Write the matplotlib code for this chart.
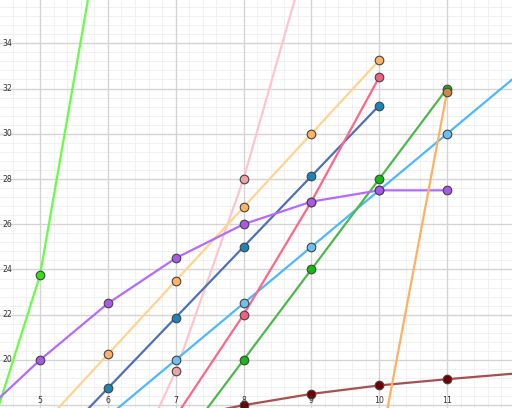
import matplotlib
matplotlib.use("Agg")
import matplotlib.pyplot as plt
import numpy as np
from matplotlib.transforms import blended_transform_factory

# ---- data ----
bright_green_x = [4, 5, 6]
bright_green_y = [14.25, 23.75, 41.0]
purple_x = [4, 5, 6, 7, 8, 9, 10, 11]
purple_y = [17.2, 20, 22.5, 24.5, 26, 27, 27.5, 27.5]
peach_x = [5, 6, 7, 8, 9, 10]
peach_y = [17.0, 20.25, 23.5, 26.75, 30, 33.25]
darkblue_x = [5, 6, 7, 8, 9, 10]
darkblue_y = [15.625, 18.75, 21.875, 25, 28.125, 31.25]
lightblue_x = [6, 7, 8, 9, 10, 11, 12]
lightblue_y = [17.5, 20, 22.5, 25, 27.5, 30, 32.5]
palepink_x = [6, 7, 8, 9]
palepink_y = [13.0, 19.5, 28, 38.5]
hotpink_x = [7, 8, 9, 10]
hotpink_y = [17.5, 22, 27, 32.5]
green_x = [7, 8, 9, 10, 11]
green_y = [16, 20, 24, 28, 32]
orange_x = [10, 11]
orange_y = [15.9, 31.85]
brown_x = [7, 8, 9, 10, 11, 12]
brown_y = [17.4, 18.0, 18.5, 18.875, 19.15, 19.4]

x_tick_labels = ["5", "6", "7", "8", "9", "10", "11"]
y_tick_labels = ["20", "22", "24", "26", "28", "30", "32", "34"]

# (x, y, line colour, marker colour, marked points)
series = [
    (brown_x, brown_y, "#a85050", "#6e0000", slice(0, 5)),
    (bright_green_x, bright_green_y, "#66ff44", "#33e011", slice(None)),
    (palepink_x, palepink_y, "#ffc4cc", "#eea2aa", slice(None)),
    (peach_x, peach_y, "#ffd48f", "#ffb366", slice(None)),
    (darkblue_x, darkblue_y, "#4f70b4", "#1a86b8", slice(None)),
    (lightblue_x, lightblue_y, "#4db8ff", "#6cc0f0", slice(0, 6)),
    (hotpink_x, hotpink_y, "#ff6688", "#f06080", slice(None)),
    (green_x, green_y, "#4cb84c", "#11bb11", slice(None)),
    (purple_x, purple_y, "#b36bff", "#a958e8", slice(None)),
    (orange_x, orange_y, "#ffb060", "#cc8844", slice(None)),
]

fig = plt.figure(figsize=(5.12, 4.08), dpi=100)
ax = fig.add_axes([0, 0, 1, 1])
ax.set_xlim(4.410, 11.958)
ax.set_ylim(17.877, 35.914)
for s in ax.spines.values():
    s.set_visible(False)
ax.set_xticks([])
ax.set_yticks([])

# grid
for xv in np.arange(4.4, 12.01, 0.2):
    major = abs(xv - round(xv)) < 1e-6
    ax.axvline(xv, color="#d4d4d4" if major else "#efefef",
               lw=1.0 if major else 0.6, zorder=0.5 if major else 0)
for yv in np.arange(17.6, 36.01, 0.4):
    major = abs(yv / 2 - round(yv / 2)) < 1e-6
    ax.axhline(yv, color="#d4d4d4" if major else "#efefef",
               lw=1.0 if major else 0.6, zorder=0.5 if major else 0)

# series
for i, (xs, ys, lc, mc, mk) in enumerate(series):
    ax.plot(xs, ys, color=lc, lw=1.6, zorder=2 + i * 0.01, solid_capstyle="round")
for i, (xs, ys, lc, mc, mk) in enumerate(series):
    ax.plot(xs, ys, ls="none", marker="o", ms=6.2, mfc=mc, mec="#444444",
            mew=0.8, markevery=mk, zorder=3 + i * 0.01)

# axis labels
tx = blended_transform_factory(ax.transData, ax.transAxes)
for lab in x_tick_labels:
    ax.text(float(lab), 0.019, lab, transform=tx, ha="center", va="center",
            fontsize=5.6, color="#333333", zorder=5)
ty = blended_transform_factory(ax.transAxes, ax.transData)
for lab in y_tick_labels:
    ax.text(0.004, float(lab), lab, transform=ty, ha="left", va="center",
            fontsize=5.6, color="#333333", zorder=5)

fig.savefig("out.png", dpi=100)
